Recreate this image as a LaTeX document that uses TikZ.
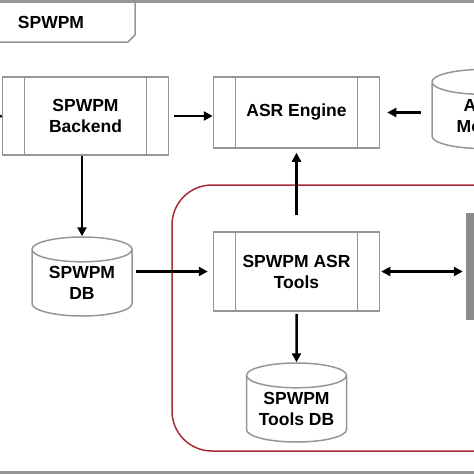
\documentclass[tikz,border=0pt]{standalone}
\usepackage{fontspec}
\setmainfont{Liberation Sans}
\usetikzlibrary{arrows.meta,shapes.geometric}

\definecolor{boxgray}{RGB}{150,150,150}
\definecolor{framered}{RGB}{165,45,55}
\definecolor{bargray}{RGB}{140,140,140}

\begin{document}
\begin{tikzpicture}[line join=round,x=1pt,y=-1pt,
	txt/.style={font=\fontsize{17.5}{21}\selectfont\bfseries,align=center,text=black},
	procbox/.style={draw=boxgray,line width=1.5pt,txt,minimum width=166pt,inner sep=0pt,
		path picture={
			\draw[boxgray,line width=1.5pt] ([xshift=22pt]path picture bounding box.north west) -- ([xshift=22pt]path picture bounding box.south west);
			\draw[boxgray,line width=1.5pt] ([xshift=-22pt]path picture bounding box.north east) -- ([xshift=-22pt]path picture bounding box.south east);}},
	dbase/.style={cylinder,shape border rotate=90,aspect=0.31,draw=boxgray,line width=1.5pt,anchor=shape center,
		text width=80pt,minimum width=100pt,minimum height=79pt,inner sep=0pt},
	flow/.style={line width=2.5pt,-{Triangle[length=9pt,width=9pt]}},
	both/.style={line width=2.5pt,{Triangle[length=9pt,width=9pt]}-{Triangle[length=9pt,width=9pt]}}]
				\useasboundingbox (0,0) rectangle (474,474);
				\clip (0,0) rectangle (474,474);
				% frame lines and tab
				\draw [boxgray,line width=3pt] (0,1) -- (474,1);
				\draw [boxgray,line width=3pt] (0,472) -- (474,472);
				\draw [boxgray,line width=1.5pt] (135,1) -- (135,35) -- (128,42) -- (-5,42);
				\node[txt] (tab) at (51,22) {SPWPM};
				% red region
				\draw [framered,line width=1.5pt,rounded corners=40pt] (172,185) rectangle (560,451);
				% boxes
				\node[procbox,minimum height=78pt] (backend) at (85.5,116) {SPWPM\\Backend};
				\node[procbox,minimum height=71pt] (engine) at (296.5,112.5) {ASR Engine};
				\node[procbox,minimum height=79pt] (tools) at (296.5,271.5) {SPWPM ASR\\Tools};
				\node[dbase] (db) at (82,276.5) {};
				\node[dbase] (toolsdb) at (296.5,402.5) {};
				\node[dbase] (model) at (482,109) {};
				\node[txt] (dbtext) at ([yshift=-6.5pt]db.shape center) {SPWPM\\DB};
				\node[txt] (toolsdbtext) at ([yshift=-6.5pt]toolsdb.shape center) {SPWPM\\Tools DB};
				\node[txt] (modeltext) at ([yshift=-6.5pt]model.shape center) {ASR\\Model};
				\node[fill=bargray,draw=bargray,minimum width=24pt,minimum height=106pt,inner sep=0pt] (bar) at (478,266) {};
				\coordinate (inleft) at (-10,117);
				% connectors
				\draw [line width=2.5pt] (inleft) -- (backend.west);
				\draw [flow,shorten <=5pt] (backend.east) -- (backend.east -| engine.west);
				\draw [flow,shorten <=10pt,shorten >=7pt] (model.west |- engine.east) -- (engine.east);
				\draw [flow] (backend.south -| db.north) -- (db.north);
				\draw [flow,shorten <=3pt,shorten >=5pt] (db.east |- tools.west) -- (tools.west);
				\draw [flow,shorten <=16pt,shorten >=4pt] (tools.north) -- (engine.south);
				\draw [both,shorten <=1pt,shorten >=3pt] (tools.east) -- (bar.west |- tools.east);
				\draw [flow,shorten <=2pt] (tools.south) -- (toolsdb.north);
			\end{tikzpicture}
\end{document}
